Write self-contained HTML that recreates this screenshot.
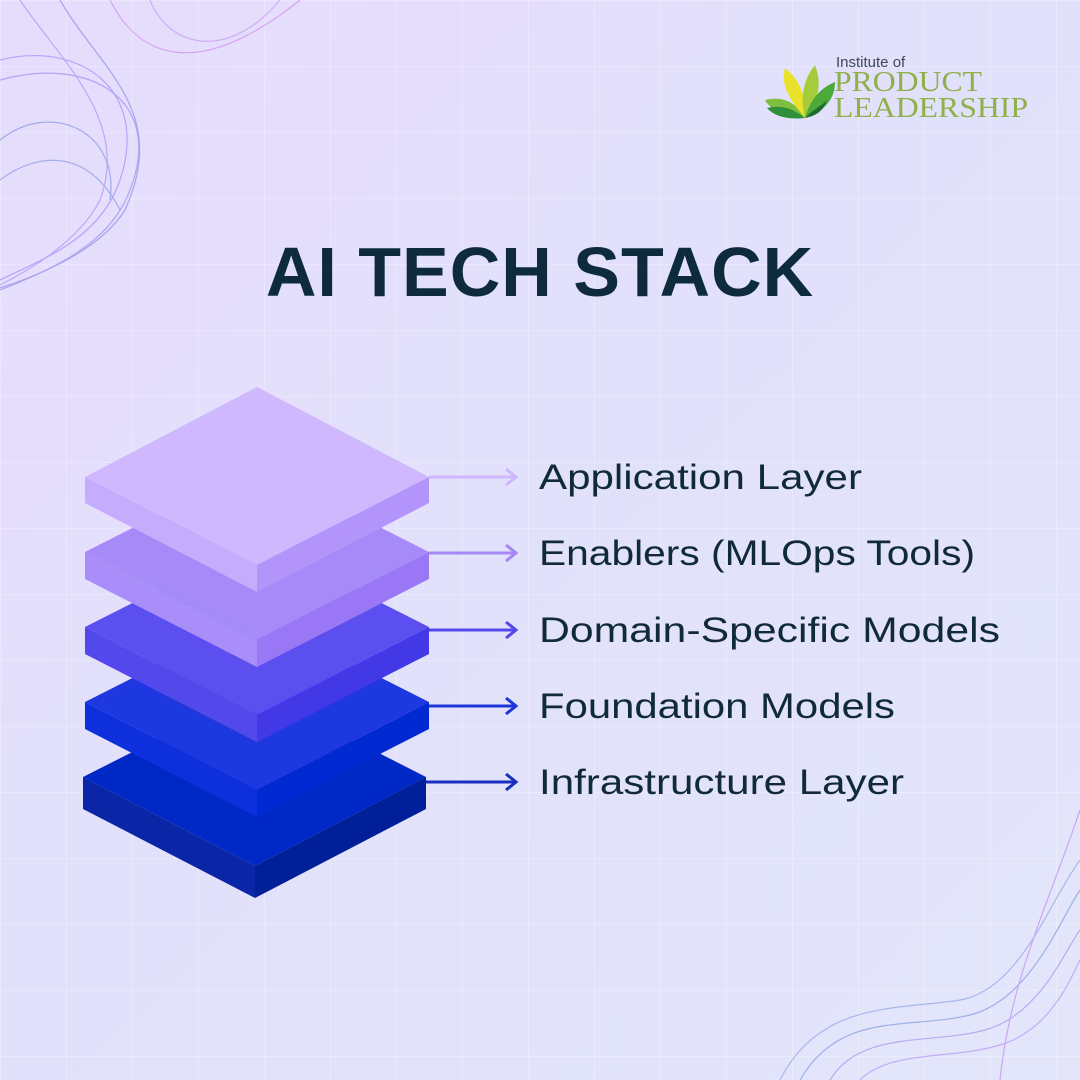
<!DOCTYPE html>
<html><head><meta charset="utf-8"><style>
html,body{margin:0;padding:0}
body{width:1080px;height:1080px;overflow:hidden;position:relative;background:linear-gradient(135deg,#e6dcfc 0%,#e2e1fb 50%,#e3e6fb 100%);font-family:"Liberation Sans",sans-serif}
.grid{position:absolute;inset:0;background-image:linear-gradient(rgba(255,255,255,.25) 1px,transparent 1px),linear-gradient(90deg,rgba(255,255,255,.25) 1px,transparent 1px);background-size:66px 66px}
h1{position:absolute;left:0;width:1080px;top:232px;margin:0;text-align:center;font-size:70px;font-weight:bold;color:#0d2b3c;letter-spacing:1px}
</style></head><body>
<div class="grid"></div>
<svg width="1080" height="1080" style="position:absolute;left:0;top:0">
<g fill="none" stroke-width="1.2" opacity=".7">
<path d="M0 60 C80 40 150 90 120 180 C100 240 40 260 0 280" stroke="#a78bfa"/>
<path d="M0 80 C90 55 165 100 130 190 C110 245 50 270 0 290" stroke="#9d8cf0"/>
<path d="M20 0 C60 60 130 120 100 200 C80 240 30 270 0 285" stroke="#b08ef5"/>
<path d="M60 0 C100 70 170 110 125 210 C100 250 40 275 0 288" stroke="#8c8be8"/>
<path d="M110 0 C140 60 200 80 300 0" stroke="#d08bf0"/>
<path d="M150 0 C170 50 230 60 280 0" stroke="#c49af2"/>
<path d="M0 140 C50 100 120 130 110 200" stroke="#7f96e0"/>
<path d="M0 180 C40 150 90 150 120 210" stroke="#8a9ae6"/>
<path d="M780 1080 C820 1000 900 1010 960 1000 C1020 990 1050 900 1080 860" stroke="#8fa4e8"/>
<path d="M800 1080 C840 1010 910 1030 970 1015 C1030 1000 1060 920 1080 890" stroke="#7f9ae0"/>
<path d="M830 1080 C860 1030 930 1045 985 1030 C1040 1015 1065 950 1080 930" stroke="#a494ef"/>
<path d="M860 1080 C890 1050 950 1060 1000 1045 C1050 1030 1070 980 1080 960" stroke="#b496f5"/>
<path d="M1000 1080 C1010 980 1050 900 1080 810" stroke="#c08cf2"/>
</g>
<g>
<polygon points="83,777 255,690 426,777 255,866" fill="#0028c6"/>
<polygon points="83,777 255,866 255,898 83,809" fill="#0a26a6"/>
<polygon points="255,866 426,777 426,809 255,898" fill="#001f98"/>
<line x1="426" y1="782" x2="516" y2="782" stroke="#1a2fc0" stroke-width="3"/><polyline points="506,774 516,782 506,790" fill="none" stroke="#1a2fc0" stroke-width="3"/>
</g>
<g>
<polygon points="85,702 257,615 429,702 257,790" fill="#1e38e0"/>
<polygon points="85,702 257,790 257,817 85,729" fill="#0d30dc"/>
<polygon points="257,790 429,702 429,729 257,817" fill="#0029d2"/>
<line x1="429" y1="706" x2="516" y2="706" stroke="#2035d8" stroke-width="3"/><polyline points="506,698 516,706 506,714" fill="none" stroke="#2035d8" stroke-width="3"/>
</g>
<g>
<polygon points="85,627 257,540 429,627 257,715" fill="#5b50ef"/>
<polygon points="85,627 257,715 257,742 85,654" fill="#5348ec"/>
<polygon points="257,715 429,627 429,654 257,742" fill="#4338e6"/>
<line x1="429" y1="630" x2="516" y2="630" stroke="#5548e8" stroke-width="3"/><polyline points="506,622 516,630 506,638" fill="none" stroke="#5548e8" stroke-width="3"/>
</g>
<g>
<polygon points="85,552 257,465 429,552 257,640" fill="#a68af8"/>
<polygon points="85,552 257,640 257,667 85,579" fill="#a98df9"/>
<polygon points="257,640 429,552 429,579 257,667" fill="#9a78f5"/>
<line x1="429" y1="553" x2="516" y2="553" stroke="#a588f6" stroke-width="3"/><polyline points="506,545 516,553 506,561" fill="none" stroke="#a588f6" stroke-width="3"/>
</g>
<g>
<polygon points="85,477 257,387 429,477 257,565" fill="#d0b8fe"/>
<polygon points="85,477 257,565 257,592 85,503" fill="#c5acfc"/>
<polygon points="257,565 429,477 429,503 257,592" fill="#b394fb"/>
<line x1="429" y1="477" x2="516" y2="477" stroke="#cfb6fd" stroke-width="3"/><polyline points="506,469 516,477 506,485" fill="none" stroke="#cfb6fd" stroke-width="3"/>
</g>
<g font-family="Liberation Sans,sans-serif" font-size="35" fill="#102a3a" lengthAdjust="spacingAndGlyphs">
<text x="539" y="489" textLength="323" lengthAdjust="spacingAndGlyphs">Application Layer</text>
<text x="539" y="565" textLength="436" lengthAdjust="spacingAndGlyphs">Enablers (MLOps Tools)</text>
<text x="539" y="642" textLength="461" lengthAdjust="spacingAndGlyphs">Domain-Specific Models</text>
<text x="539" y="718" textLength="356" lengthAdjust="spacingAndGlyphs">Foundation Models</text>
<text x="539" y="794" textLength="365" lengthAdjust="spacingAndGlyphs">Infrastructure Layer</text>
</g>
<g transform="translate(765,60)">
<path d="M40 58 C20 55 5 50 0 40 C15 36 30 40 40 58Z" fill="#7fbf3f"/>
<path d="M40 58 C25 40 15 25 20 8 C35 20 42 38 40 58Z" fill="#e8e22a"/>
<path d="M40 58 C35 38 38 20 50 5 C58 25 52 42 40 58Z" fill="#a5cc3a"/>
<path d="M40 58 C45 40 55 28 70 22 C70 40 58 52 40 58Z" fill="#4caa3a"/>
<path d="M40 58 C20 60 8 55 2 48 C18 44 30 50 40 58Z" fill="#2f8f3a"/>
<path d="M40 58 C50 48 58 45 62 40 C58 52 50 56 40 58Z" fill="#1f6b2f"/>
</g>
<text x="836" y="67" font-family="Liberation Sans,sans-serif" font-size="15" fill="#3a4a5a">Institute of</text>
<text x="834" y="91" font-family="Liberation Serif,serif" font-size="29" fill="#8fb04a" textLength="148" lengthAdjust="spacingAndGlyphs">PRODUCT</text>
<text x="834" y="117" font-family="Liberation Serif,serif" font-size="29" fill="#8fb04a" textLength="194" lengthAdjust="spacingAndGlyphs">LEADERSHIP</text>
</svg>
<h1>AI TECH STACK</h1>
</body></html>
